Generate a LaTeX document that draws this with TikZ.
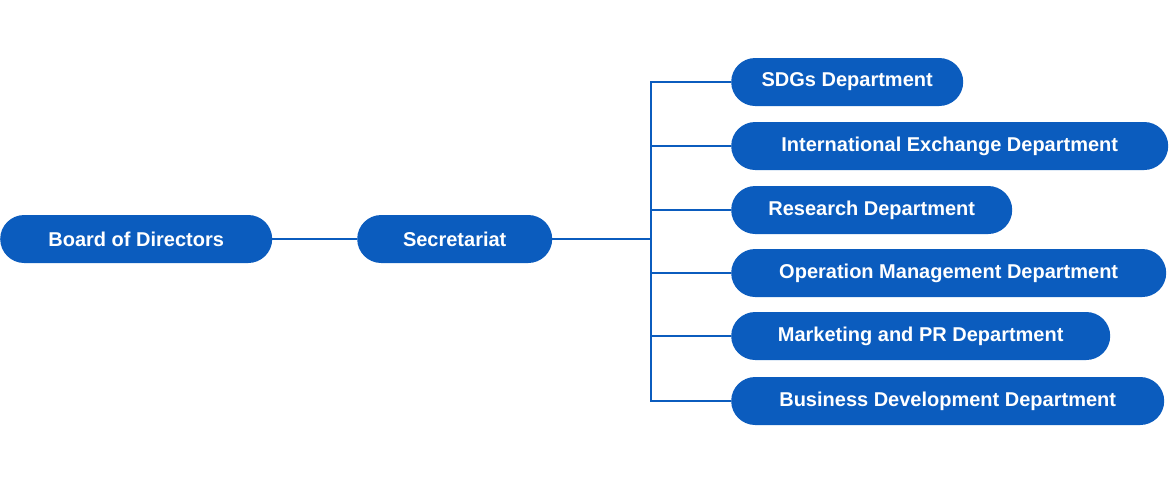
\documentclass[tikz,border=0pt]{standalone}
\usepackage{fontspec}
\setmainfont{Liberation Sans}
\usetikzlibrary{positioning}
\definecolor{orgblue}{HTML}{0B5CBE}
\tikzset{
  unit/.style={fill=orgblue,text=white,font=\fontsize{20}{24}\selectfont\bfseries,
    rounded corners=24pt,minimum height=48pt,inner sep=0pt,anchor=west},
  link/.style={draw=orgblue,line width=2.5pt}
}
\begin{document}
\begin{tikzpicture}[x=1pt,y=-1pt]
	\useasboundingbox (0,0) rectangle (1170,483);
	
	%TOP LEVELS
	\node[unit,minimum width=272pt] (board) at (0,239) {Board of Directors};
	\node[unit,minimum width=195pt] (secr) at (357,239) {Secretariat};
	\coordinate (trunk) at (651,239);
	
	%DEPARTMENTS
	\foreach \n/\y/\w/\t in {
		sdg/82/232/SDGs Department,
		intl/146/437/International Exchange Department,
		res/210/281/Research Department,
		ops/273/435/Operation Management Department,
		mkt/336/379/Marketing and PR Department,
		biz/401/433/Business Development Department}{
		\node[unit,minimum width=\w pt] (\n) at (731,\y) {\t};
		\draw[link] (\n.west) -| (trunk);
	}
	
	%CONNECTORS
	\draw[link] (board) -- (secr);
	\draw[link] (secr) -- (trunk);
\end{tikzpicture}
\end{document}
